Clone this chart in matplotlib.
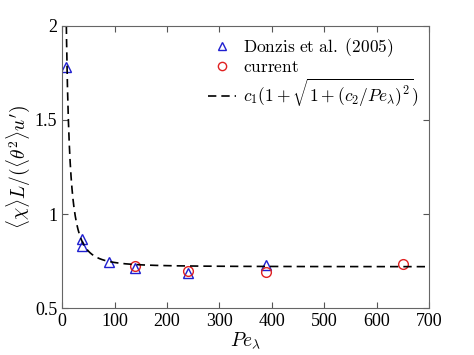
import numpy as np
import matplotlib
matplotlib.use('Agg')
import matplotlib.pyplot as plt

plt.rcParams['font.family'] = ['Liberation Serif', 'DejaVu Serif']
plt.rcParams['mathtext.fontset'] = 'cm'

# Donzis et al. (2005)
pe_donzis = [8, 38, 38, 90, 140, 240, 390]
chi_donzis = [1.78, 0.865, 0.83, 0.745, 0.715, 0.685, 0.73]

# current
pe_current = [140, 240, 390, 650]
chi_current = [0.725, 0.70, 0.69, 0.735]

# fit constants
c1 = 0.36
c2 = 36.0

pe_fit = np.linspace(5, 700, 800)
chi_fit = c1 * (1 + np.sqrt(1 + (c2 / pe_fit) ** 2))

fig = plt.figure(figsize=(4.74, 3.55), dpi=100)
ax = fig.add_axes([0.131, 0.132, 0.774, 0.795])

ax.plot(pe_donzis, chi_donzis, '^', color='#1f1fd0', mfc='none', ms=7, mew=1.0,
        label=r'$\mathrm{Donzis\ et\ al.\ (2005)}$', linestyle='none')
ax.plot(pe_current, chi_current, 'o', color='#e02020', mfc='none', ms=7, mew=1.0,
        label=r'$\mathrm{current}$', linestyle='none')
ax.plot(pe_fit, chi_fit, '--', color='black', lw=1.2, dashes=(5, 3),
        label=r'$c_1(1+\sqrt{1+(c_2/Pe_\lambda)^2})$')

ax.set_xlim(0, 700)
ax.set_ylim(0.5, 2)
ax.set_xticks(np.arange(0, 701, 100))
ax.set_yticks([0.5, 1, 1.5, 2])
ax.set_yticklabels(['0.5', '1', '1.5', '2'])
ax.tick_params(direction='in', top=True, right=True, labelsize=13, length=4,
               color='#555555')
for s in ax.spines.values():
    s.set_color('#666666')

ax.set_xlabel(r'$Pe_\lambda$', fontsize=14, labelpad=0)
ax.set_ylabel(r'$\langle\chi\rangle L/(\langle\theta^2\rangle u^\prime)$', fontsize=14, labelpad=2)

ax.legend(loc='upper right', frameon=False, fontsize=12.5, handlelength=1.6,
          handletextpad=0.4, borderaxespad=0.2, labelspacing=0.05, markerscale=0.85)

fig.savefig('out.png', dpi=100)
